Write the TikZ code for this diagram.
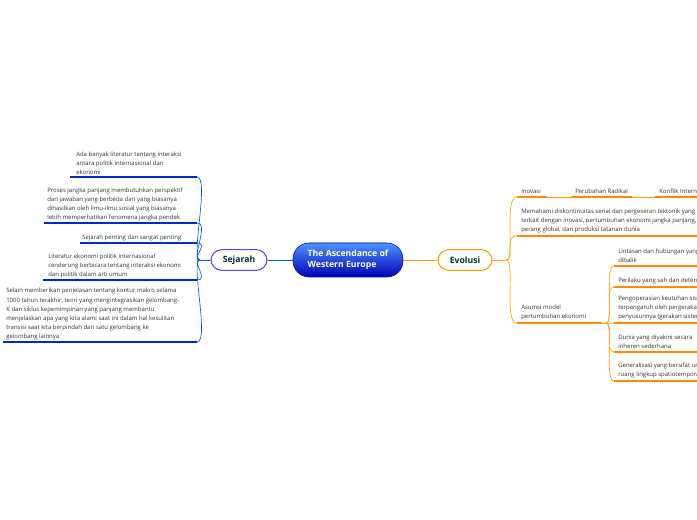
\documentclass[tikz,border=0pt]{standalone}
\usepackage{fontspec}
\setmainfont{Open Sans}
\begin{document}
\begin{tikzpicture}[x=0.75pt,y=-0.75pt,
  txt/.style={font=\fontsize{4.5}{6.8}\selectfont,text=black!80,inner sep=0pt,align=left,anchor=south west},
  bl/.style={draw=blue!60!cyan!90!black,line width=0.5pt},
  blu/.style={draw=blue!80!cyan!80!black,line width=1.2pt},
  og/.style={draw=orange!70!yellow,line width=0.5pt},
  ogu/.style={draw=orange!90!yellow,line width=1.2pt}]
\useasboundingbox (0,0) rectangle (697,520);
\clip (0,0) rectangle (697,520);
% center
\node[rounded corners=12pt,minimum width=82.5pt,minimum height=25.5pt,top color=blue!60!cyan!70,bottom color=blue!70!black,draw=blue!70!black,text=white,font=\fontsize{6.5}{8}\selectfont\bfseries,align=left] (c) at (348,260) {The Ascendance of\\Western Europe};
\node[rounded corners=8pt,minimum width=42pt,minimum height=15.5pt,draw=blue!70,line width=0.8pt,fill=white,font=\fontsize{6.5}{8}\selectfont\bfseries,text=teal!40!black] (s) at (239,260) {Sejarah};
\node[rounded corners=8pt,minimum width=40.5pt,minimum height=15.5pt,draw=orange!80!yellow,line width=0.8pt,fill=white,font=\fontsize{6.5}{8}\selectfont\bfseries,text=teal!40!black] (e) at (465,260) {Evolusi};
\draw[bl] (s) -- (c);
\draw[og] (c) -- (e);
% left
\coordinate (L) at (200,260);
\draw[bl] (s.west) -- (L);
\foreach \n/\y/\x in {l1/177/70,l2/223/44,l3/243/80,l4/280/43,l5/342/3}{
  \coordinate (\n a) at (\x,\y); \coordinate (\n b) at (197,\y);
  \draw[blu] (\n a) -- (\n b);
  \draw[bl] (L) .. controls (190,260) and (210,\y) .. (\n b);
}
\node[txt] at (76,175) {Ada banyak literatur tentang interaksi\\antara politik internasional dan\\ekonomi};
\node[txt] at (47,221) {Proses jangka panjang membutuhkan perspektif\\dan jawaban yang berbeda dari yang biasanya\\dihasilkan oleh ilmu-ilmu sosial yang biasanya\\lebih memperhatikan fenomena jangka pendek};
\node[txt] at (82,241) {Sejarah penting dan sangat penting};
\node[txt] at (48,278) {Literatur ekonomi politik internasional\\cenderung berbicara tentang interaksi ekonomi\\dan politik dalam arti umum};
\node[txt] at (6,340) {Selain memberikan penjelasan tentang kontur makro selama\\1000 tahun terakhir, teori yang mengintegrasikan gelombang-\\K dan siklus kepemimpinan yang panjang membantu\\menjelaskan apa yang kita alami saat ini dalam hal kesulitan\\transisi saat kita berpindah dari satu gelombang ke\\gelombang lainnya};
% right
\coordinate (R) at (506,260);
\draw[og] (e.east) -- (R);
\foreach \n/\y/\x in {r1/197/547,r2/236/697,r3/323/602}{
  \coordinate (\n a) at (517,\y); \coordinate (\n b) at (\x,\y);
  \draw[ogu] (\n a) -- (\n b);
  \draw[og] (R) .. controls (516,260) and (503,\y) .. (\n a);
}
\coordinate (p1) at (571,197); \coordinate (p2) at (632,197);
\coordinate (k1) at (655,197); \coordinate (k2) at (700,197);
\draw[og] (r1b) -- (p1); \draw[ogu] (p1) -- (p2); \draw[og] (p2) -- (k1); \draw[ogu] (k1) -- (k2);
\node[txt] at (521,194) {Inovasi};
\node[txt] at (575,194) {Perubahan Radikal};
\node[txt] at (659,194) {Konflik Internasional};
\node[txt] at (521,233) {Memahami diskontinuitas serial dan pergeseran tektonik yang\\terkait dengan inovasi, pertumbuhan ekonomi jangka panjang,\\perang global, dan produksi tatanan dunia};
\node[txt] at (521,320) {Asumsi model\\pertumbuhan ekonomi};
\coordinate (A) at (606,323);
\draw[og] (r3b) -- (A);
\foreach \n/\y in {a1/266,a2/287,a3/323,a4/352,a5/381}{
  \coordinate (\n a) at (614,\y); \coordinate (\n b) at (700,\y);
  \draw[ogu] (\n a) -- (\n b);
  \draw[og] (A) .. controls (614,323) and (604,\y) .. (\n a);
}
\node[txt] at (618,263) {Lintasan dan hubungan yang tidak dapat\\dibalik};
\node[txt] at (618,284) {Perilaku yang sah dan deterministik};
\node[txt] at (618,320) {Pengoperasian keutuhan sistem yang\\terpengaruh oleh pergerakan dan\\penyusunnya (gerakan sistem)};
\node[txt] at (618,349) {Dunia yang diyakini secara\\inheren sederhana};
\node[txt] at (618,378) {Generalisasi yang bersifat universal\\ruang lingkup spatiotemporal};
\end{tikzpicture}
\end{document}
